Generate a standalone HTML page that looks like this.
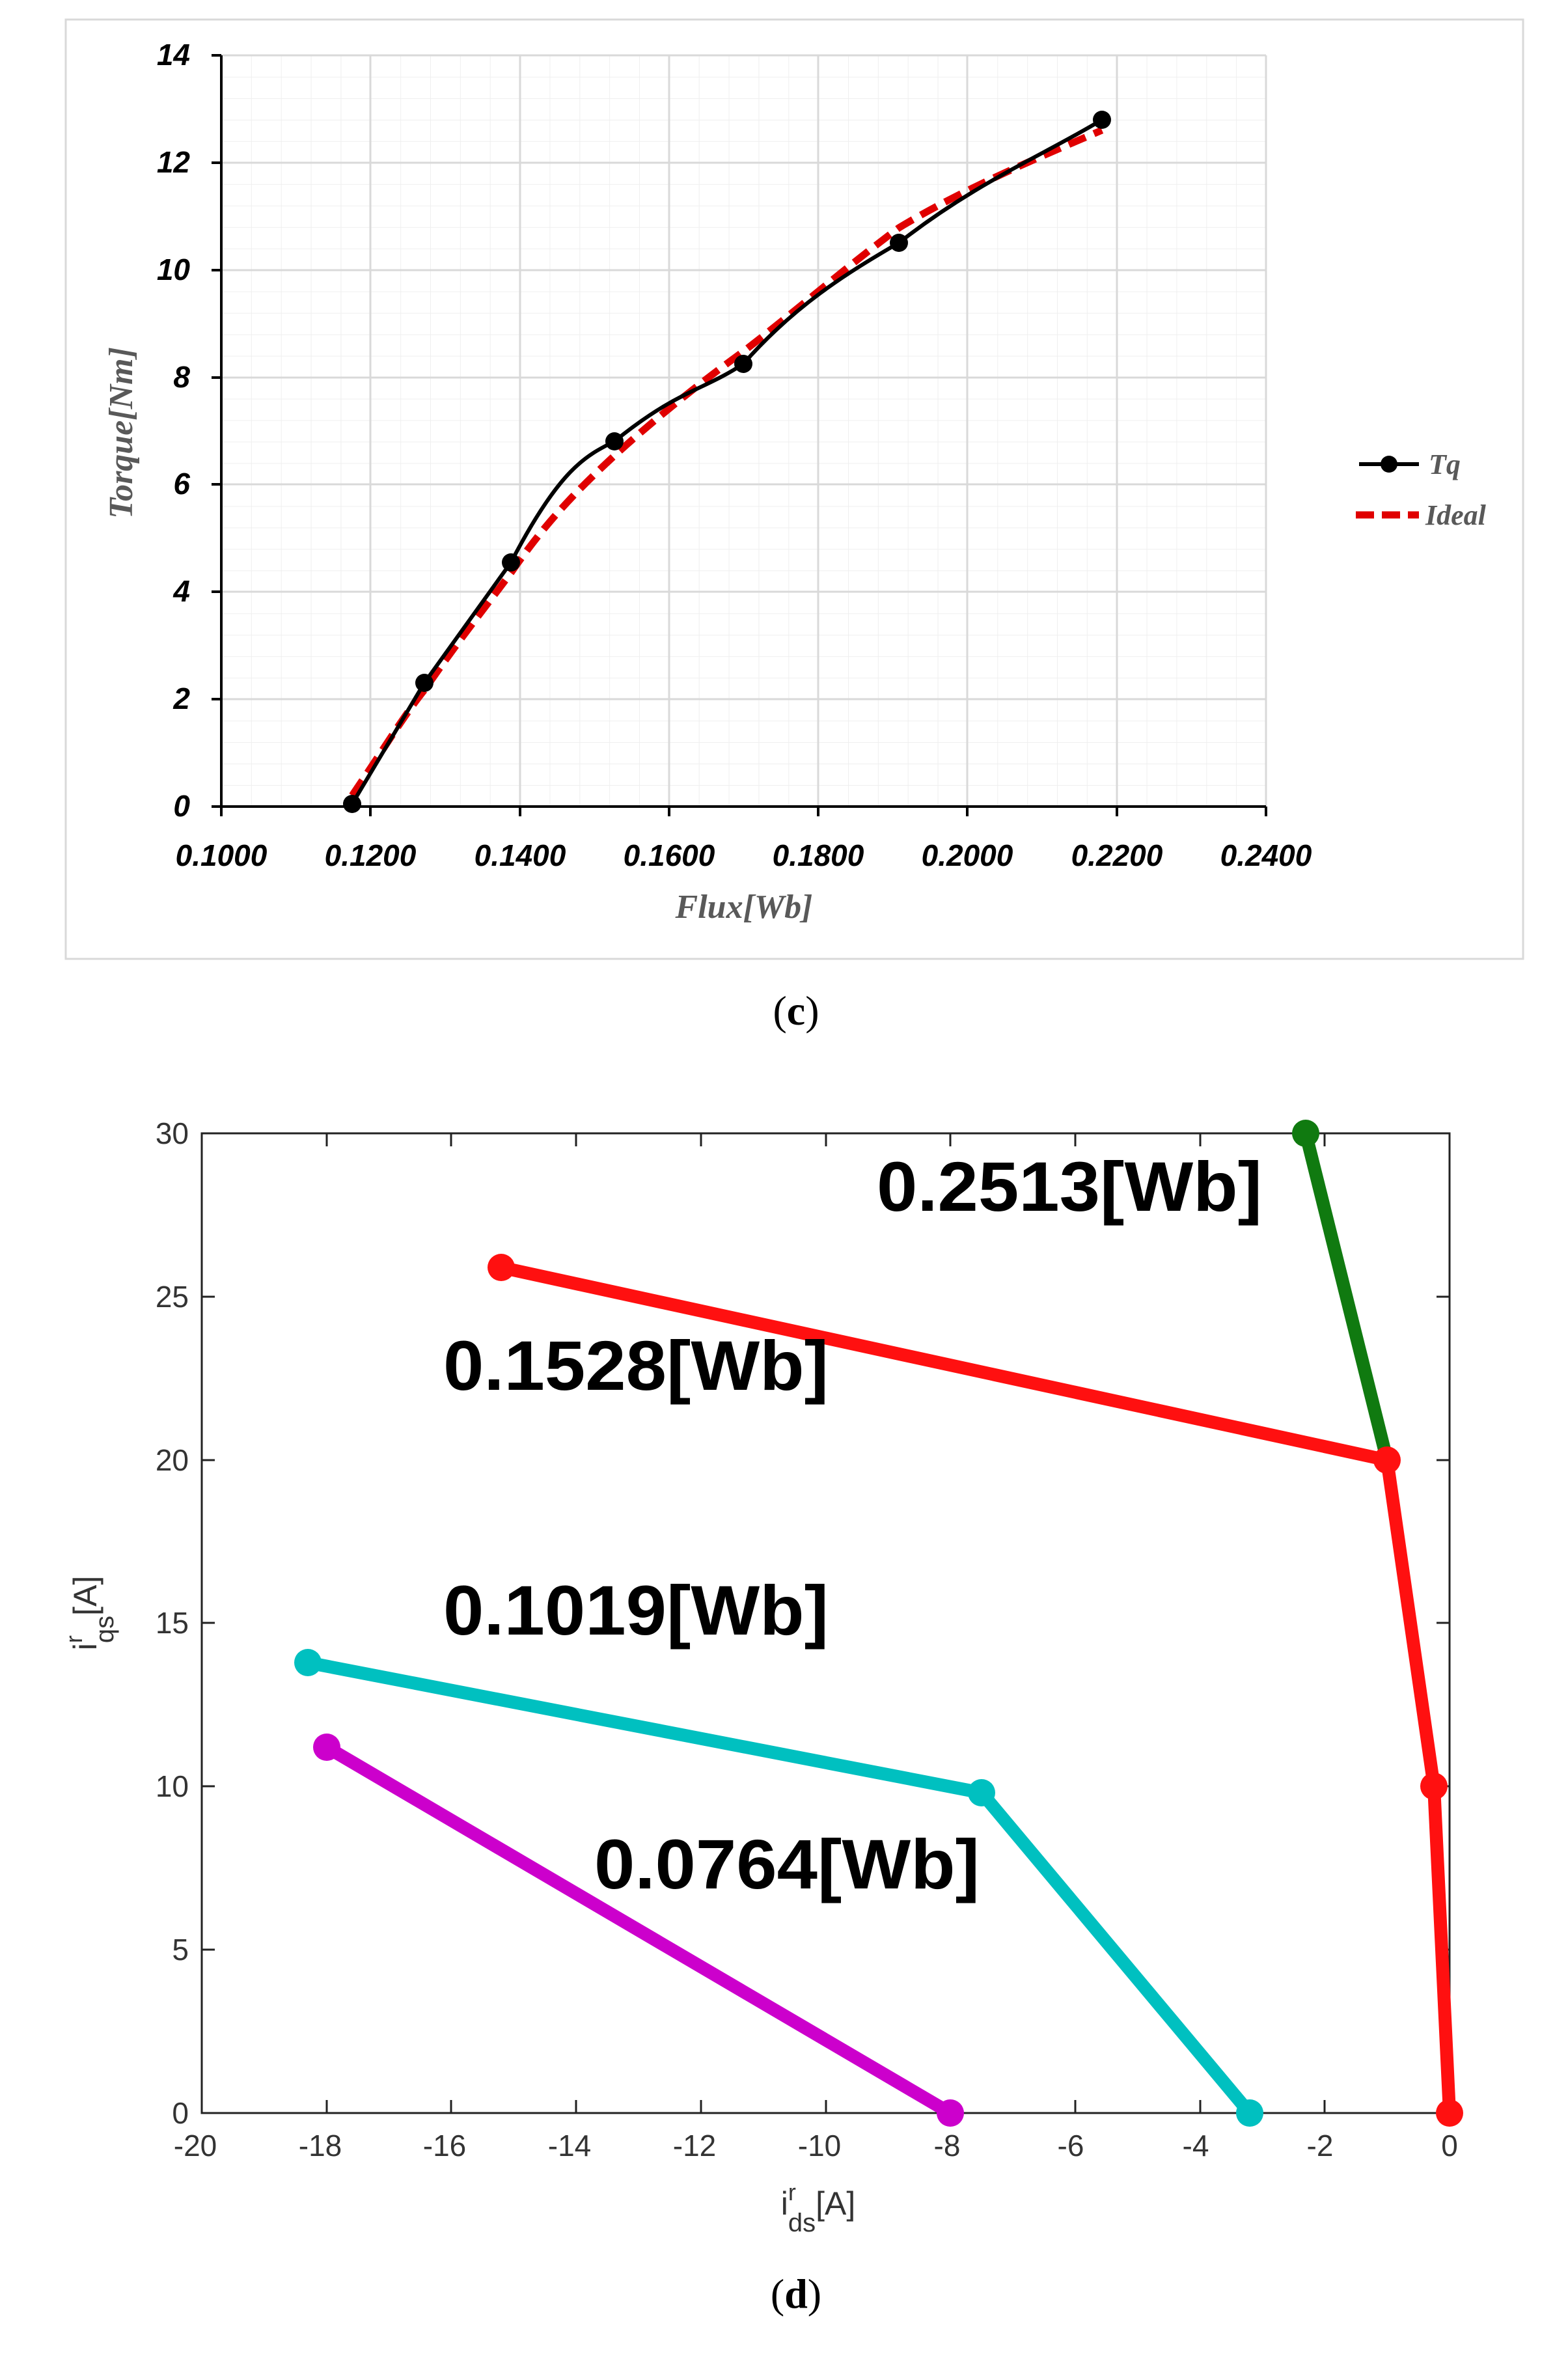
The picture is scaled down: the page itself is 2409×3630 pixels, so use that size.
<!DOCTYPE html>
<html><head><meta charset="utf-8"><style>html,body{margin:0;padding:0;background:#fff}svg{display:block}</style></head>
<body>
<svg width="2409" height="3630" viewBox="0 0 2409 3630" xmlns="http://www.w3.org/2000/svg">
<defs>
<pattern id="mg" patternUnits="userSpaceOnUse" x="340" y="85" width="45.857" height="32.971">
<path d="M0 0V32.971M0 0H45.857" stroke="#efefef" stroke-width="2" fill="none"/>
</pattern>
</defs>
<rect width="2409" height="3630" fill="#fff"/>
<!-- Chart c -->
<rect x="101" y="30" width="2239" height="1443" fill="#fff" stroke="#d9d9d9" stroke-width="3"/>
<rect x="340" y="85" width="1605" height="1154" fill="url(#mg)"/>
<g stroke="#d9d9d9" stroke-width="3" fill="none">
<path d="M569 85V1239M799 85V1239M1028 85V1239M1257 85V1239M1486 85V1239M1716 85V1239M1945 85V1239"/>
<path d="M340 85H1945M340 250H1945M340 415H1945M340 580H1945M340 744H1945M340 909H1945M340 1074H1945"/>
</g>
<g stroke="#000" stroke-width="4" fill="none">
<path d="M340 85V1239H1945"/>
<path d="M325 85H340M325 250H340M325 415H340M325 580H340M325 744H340M325 909H340M325 1074H340M325 1239H340"/>
<path d="M340 1239v15M569 1239v15M799 1239v15M1028 1239v15M1257 1239v15M1486 1239v15M1716 1239v15M1945 1239v15"/>
</g>
<g font-family="Liberation Sans, sans-serif" font-weight="bold" font-style="italic" font-size="46" fill="#000" text-anchor="end">
<text x="292" y="100">14</text><text x="292" y="265">12</text><text x="292" y="430">10</text><text x="292" y="595">8</text><text x="292" y="759">6</text><text x="292" y="924">4</text><text x="292" y="1089">2</text><text x="292" y="1254">0</text>
</g>
<g font-family="Liberation Sans, sans-serif" font-weight="bold" font-style="italic" font-size="46" fill="#000" text-anchor="middle">
<text x="340" y="1330">0.1000</text><text x="569" y="1330">0.1200</text><text x="799" y="1330">0.1400</text><text x="1028" y="1330">0.1600</text><text x="1257" y="1330">0.1800</text><text x="1486" y="1330">0.2000</text><text x="1716" y="1330">0.2200</text><text x="1945" y="1330">0.2400</text>
</g>
<text x="1143" y="1410" font-family="Liberation Serif, serif" font-weight="bold" font-style="italic" font-size="52" fill="#595959" text-anchor="middle">Flux[Wb]</text>
<text transform="translate(203,665) rotate(-90)" font-family="Liberation Serif, serif" font-weight="bold" font-style="italic" font-size="52" fill="#595959" text-anchor="middle">Torque[Nm]</text>
<path d="M541 1222 C590 1150 620 1100 652 1060 C700 990 740 940 785 880 C840 800 890 750 944 700 C1010 640 1080 585 1142 540 C1220 480 1300 410 1381 350 C1480 290 1600 240 1693 200" fill="none" stroke="#e00000" stroke-width="11" stroke-dasharray="28,14"/>
<path d="M541 1235 L652 1049 L785 864 C860 720 900 700 944 678 C1040 600 1080 600 1142 559 C1220 470 1300 420 1381 373 C1500 280 1600 240 1693 184" fill="none" stroke="#000" stroke-width="6"/>
<g fill="#000"><circle cx="541" cy="1235" r="14"/><circle cx="652" cy="1049" r="14"/><circle cx="785" cy="864" r="14"/><circle cx="944" cy="678" r="14"/><circle cx="1142" cy="559" r="14"/><circle cx="1381" cy="373" r="14"/><circle cx="1693" cy="184" r="14"/></g>
<path d="M2088 713H2180" stroke="#000" stroke-width="6"/><circle cx="2134" cy="713" r="13" fill="#000"/>
<text x="2195" y="728" font-family="Liberation Serif, serif" font-weight="bold" font-style="italic" font-size="44" fill="#595959">Tq</text>
<path d="M2083 791H2180" stroke="#e00000" stroke-width="11" stroke-dasharray="28,12"/>
<text x="2190" y="806" font-family="Liberation Serif, serif" font-weight="bold" font-style="italic" font-size="44" fill="#595959">Ideal</text>
<text x="1223" y="1574" font-family="Liberation Serif, serif" font-size="64" text-anchor="middle" fill="#000">(<tspan font-weight="bold">c</tspan>)</text>

<!-- Chart d -->
<rect x="310" y="1741" width="1917" height="1505" fill="#fff" stroke="#222" stroke-width="3"/>
<g stroke="#222" stroke-width="3" fill="none">
<path d="M310 3246v-20M502 3246v-20M693 3246v-20M885 3246v-20M1077 3246v-20M1269 3246v-20M1460 3246v-20M1652 3246v-20M1844 3246v-20M2035 3246v-20"/>
<path d="M502 1741v20M693 1741v20M885 1741v20M1077 1741v20M1269 1741v20M1460 1741v20M1652 1741v20M1844 1741v20M2035 1741v20"/>
<path d="M310 2995h20M310 2744h20M310 2493h20M310 2243h20M310 1992h20M2227 2995h-20M2227 2744h-20M2227 2493h-20M2227 2243h-20M2227 1992h-20"/>
</g>
<g font-family="Liberation Sans, sans-serif" font-size="46" fill="#333" text-anchor="end">
<text x="290" y="1757">30</text><text x="290" y="2008">25</text><text x="290" y="2259">20</text><text x="290" y="2509">15</text><text x="290" y="2760">10</text><text x="290" y="3011">5</text><text x="290" y="3262">0</text>
</g>
<g font-family="Liberation Sans, sans-serif" font-size="46" fill="#333" text-anchor="middle">
<text x="300" y="3312">-20</text><text x="492" y="3312">-18</text><text x="683" y="3312">-16</text><text x="875" y="3312">-14</text><text x="1067" y="3312">-12</text><text x="1259" y="3312">-10</text><text x="1455" y="3312">-8</text><text x="1645" y="3312">-6</text><text x="1837" y="3312">-4</text><text x="2028" y="3312">-2</text><text x="2227" y="3312">0</text>
</g>
<text x="1257" y="3402" font-family="Liberation Sans, sans-serif" font-size="50" fill="#333" text-anchor="middle">i<tspan dy="-22" font-size="36">r</tspan><tspan dy="48" dx="-12" font-size="40">ds</tspan><tspan dy="-26">[A]</tspan></text>
<text transform="translate(148,2478) rotate(-90)" font-family="Liberation Sans, sans-serif" font-size="50" fill="#333" text-anchor="middle">i<tspan dy="-22" font-size="36">r</tspan><tspan dy="48" dx="-12" font-size="40">qs</tspan><tspan dy="-26">[A]</tspan></text>
<g fill="none" stroke-width="20" stroke-linejoin="round">
<path d="M2006 1741L2131 2243" stroke="#107a10"/>
<path d="M770 1947L2131 2243L2203 2744L2227 3246" stroke="#ff1010"/>
<path d="M473 2554L1508 2754L1920 3246" stroke="#00c0c0"/>
<path d="M502 2684L1460 3246" stroke="#cc00cc"/>
</g>
<g>
<circle cx="2006" cy="1741" r="21" fill="#107a10"/>
<circle cx="770" cy="1947" r="21" fill="#ff1010"/><circle cx="2131" cy="2243" r="21" fill="#ff1010"/><circle cx="2203" cy="2744" r="21" fill="#ff1010"/><circle cx="2227" cy="3246" r="21" fill="#ff1010"/>
<circle cx="473" cy="2554" r="21" fill="#00c0c0"/><circle cx="1508" cy="2754" r="21" fill="#00c0c0"/><circle cx="1920" cy="3246" r="21" fill="#00c0c0"/>
<circle cx="502" cy="2684" r="21" fill="#cc00cc"/><circle cx="1460" cy="3246" r="21" fill="#cc00cc"/>
</g>
<g font-family="Liberation Sans, sans-serif" font-weight="bold" font-size="108" fill="#000">
<text x="1347" y="1860" textLength="592" lengthAdjust="spacingAndGlyphs">0.2513[Wb]</text>
<text x="681" y="2135" textLength="592" lengthAdjust="spacingAndGlyphs">0.1528[Wb]</text>
<text x="681" y="2511" textLength="592" lengthAdjust="spacingAndGlyphs">0.1019[Wb]</text>
<text x="913" y="2901" textLength="592" lengthAdjust="spacingAndGlyphs">0.0764[Wb]</text>
</g>
<text x="1223" y="3545" font-family="Liberation Serif, serif" font-size="64" text-anchor="middle" fill="#000">(<tspan font-weight="bold">d</tspan>)</text>
</svg>
</body></html>
